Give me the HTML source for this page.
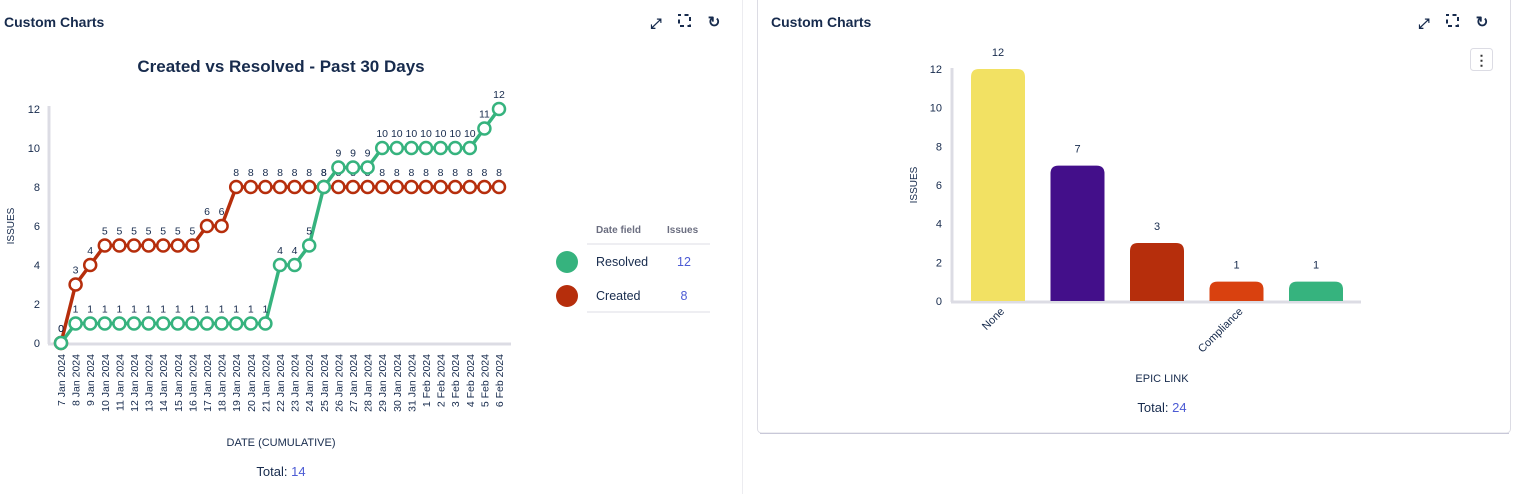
<!DOCTYPE html>
<html><head><meta charset="utf-8"><style>
body{margin:0;width:1525px;height:494px;background:#fff;font-family:"Liberation Sans",sans-serif;overflow:hidden;position:relative}
svg{position:absolute;left:0;top:0}
</style></head><body>
<svg id="s" width="1525" height="494">
<line x1="742.5" y1="0" x2="742.5" y2="494" stroke="#ececf0"/>
<rect x="757.5" y="-10" width="753" height="443" rx="4" fill="#fff" stroke="#dcdce4"/>
<line x1="760" y1="433.5" x2="1509" y2="433.5" stroke="#c8c8d8"/>
<text x="4" y="27" font-size="14" font-weight="bold" fill="#172b4d">Custom Charts</text>
<text x="771" y="27" font-size="14" font-weight="bold" fill="#172b4d">Custom Charts</text>
<g id="icons"></g>
<rect x="1470.5" y="48.5" width="22" height="22" rx="3" fill="#fff" stroke="#dcdce4"/>
<text x="1481.5" y="65" font-size="14" font-weight="bold" text-anchor="middle" fill="#333">⋮</text>
<text x="281" y="72" font-size="17" font-weight="bold" text-anchor="middle" fill="#172b4d">Created vs Resolved - Past 30 Days</text>
<g id="lc"></g>
<g id="bc"></g>
<g>
<text x="596" y="233" font-size="10" font-weight="bold" fill="#6b6e80">Date field</text>
<text x="667" y="233" font-size="10" font-weight="bold" fill="#6b6e80">Issues</text>
<line x1="587" y1="244" x2="710" y2="244" stroke="#dcdce4"/>
<g><circle cx="567" cy="262" r="11" fill="#36b37e"/><text x="596" y="266" font-size="12.5" fill="#172b4d">Resolved</text><text x="684" y="266" font-size="12.5" fill="#4c5bd4" text-anchor="middle">12</text></g>
<g><circle cx="567" cy="296" r="11" fill="#b62e0c"/><text x="596" y="300" font-size="12.5" fill="#172b4d">Created</text><text x="684" y="300" font-size="12.5" fill="#4c5bd4" text-anchor="middle">8</text></g>
<line x1="587" y1="312" x2="710" y2="312" stroke="#dcdce4"/>
</g>
<text x="281" y="446" font-size="11" text-anchor="middle" fill="#172b4d">DATE (CUMULATIVE)</text>
<text x="281" y="476" font-size="13" text-anchor="middle" fill="#172b4d">Total: <tspan fill="#4c5bd4">14</tspan></text>
<text x="1162" y="382" font-size="11" text-anchor="middle" fill="#172b4d">EPIC LINK</text>
<text x="1162" y="412" font-size="13" text-anchor="middle" fill="#172b4d">Total: <tspan fill="#4c5bd4">24</tspan></text>
</svg>
<script>
const NS="http://www.w3.org/2000/svg";
const dates=["7 Jan 2024","8 Jan 2024","9 Jan 2024","10 Jan 2024","11 Jan 2024","12 Jan 2024","13 Jan 2024","14 Jan 2024","15 Jan 2024","16 Jan 2024","17 Jan 2024","18 Jan 2024","19 Jan 2024","20 Jan 2024","21 Jan 2024","22 Jan 2024","23 Jan 2024","24 Jan 2024","25 Jan 2024","26 Jan 2024","27 Jan 2024","28 Jan 2024","29 Jan 2024","30 Jan 2024","31 Jan 2024","1 Feb 2024","2 Feb 2024","3 Feb 2024","4 Feb 2024","5 Feb 2024","6 Feb 2024"];
const resolved=[0,1,1,1,1,1,1,1,1,1,1,1,1,1,1,4,4,5,8,9,9,9,10,10,10,10,10,10,10,11,12];
const created=[0,3,4,5,5,5,5,5,5,5,6,6,8,8,8,8,8,8,8,8,8,8,8,8,8,8,8,8,8,8,8];
const yTicks=[0,2,4,6,8,10,12];
const barCats=["None","","","Compliance",""];
const barVals=[12,7,3,1,1];
const barColors=["#f2e163","#430f8a","#b62e0c","#d9410f","#36b37e"];

function el(tag,attrs,parent,txt){const e=document.createElementNS(NS,tag);for(const k in attrs)e.setAttribute(k,attrs[k]);if(txt!==undefined)e.textContent=txt;parent.appendChild(e);return e;}

const lc=document.getElementById('lc');
const lx=i=>61+i*(438/(dates.length-1));
const ly=v=>343-v*(234/12);
let g=el('g',{},lc);


el('line',{x1:49,y1:106,x2:49,y2:344,stroke:'#dcdce4','stroke-width':3},g);
el('line',{x1:48,y1:344,x2:511,y2:344,stroke:'#dcdce4','stroke-width':3},g);
yTicks.forEach(t=>{const tx=el('text',{x:40,y:ly(t)+4,'font-size':11,'text-anchor':'end',fill:'#172b4d'},g,String(t));

});
const yt=el('text',{x:14,y:226,'font-size':10,'text-anchor':'middle',fill:'#172b4d',transform:'rotate(-90 14 226)'},lc,'ISSUES');


dates.forEach((d,i)=>{const x=lx(i)+4;const t=el('text',{x:x,y:354,'font-size':10.5,'text-anchor':'end',fill:'#172b4d',transform:`rotate(-90 ${x} 354)`},lc,d);

});
function series(vals,color,name){
 const sg=el('g',{},lc);
 
 
 const p=el('polyline',{points:vals.map((v,i)=>lx(i)+','+ly(v)).join(' '),fill:'none',stroke:color,'stroke-width':3.5},sg);
 
 
 vals.forEach((v,i)=>{const c=el('circle',{cx:lx(i),cy:ly(v),r:6,fill:'#fff',stroke:color,'stroke-width':2.5},sg);
 
 
 const t=el('text',{x:lx(i),y:ly(v)-11,'font-size':10.5,'text-anchor':'middle',fill:'#172b4d'},sg,String(v));
 
 });
}
series(created,'#b62e0c','created');
series(resolved,'#36b37e','resolved');

const bc=document.getElementById('bc');
const by=v=>301-v*(232/12);
const bx=i=>998+i*79.5;
const ag=el('g',{},bc);


el('line',{x1:952,y1:68,x2:952,y2:302,stroke:'#dcdce4','stroke-width':3},ag);
el('line',{x1:951,y1:302,x2:1361,y2:302,stroke:'#dcdce4','stroke-width':3},ag);
yTicks.forEach(t=>{const tx=el('text',{x:942,y:by(t)+4,'font-size':11,'text-anchor':'end',fill:'#172b4d'},ag,String(t));

});
const byt=el('text',{x:917,y:185,'font-size':10,'text-anchor':'middle',fill:'#172b4d',transform:'rotate(-90 917 185)'},bc,'ISSUES');


barVals.forEach((v,i)=>{
 const y=by(v);
 const r=el('path',{d:`M${bx(i)-27},301 V${y+8} Q${bx(i)-27},${y} ${bx(i)-19},${y} H${bx(i)+19} Q${bx(i)+27},${y} ${bx(i)+27},${y+8} V301 Z`,fill:barColors[i]},bc);
 
 
 const t=el('text',{x:bx(i),y:y-13,'font-size':11,'text-anchor':'middle',fill:'#172b4d'},bc,String(v));
 
 
 if(barCats[i]){const x=bx(i)+7;const c=el('text',{x:x,y:312,'font-size':11,'text-anchor':'end',fill:'#172b4d',transform:`rotate(-45 ${x} 312)`},bc,barCats[i]);
 
 }
});

const ic=document.getElementById('icons');
[[648,'left'],[1416,'right']].forEach(([x0,side])=>{
 const a=el('text',{x:x0+8,y:28,'font-size':14,'font-weight':'bold','text-anchor':'middle',fill:'#172b4d'},ic,'⤢');
 
 
 const f=el('rect',{x:x0+31,y:15,width:11,height:11,fill:'none',stroke:'#172b4d','stroke-width':2,'stroke-dasharray':'4 3.5','stroke-dashoffset':2},ic);
 
 
 const r=el('text',{x:x0+66,y:27,'font-size':15,'font-weight':'bold','text-anchor':'middle',fill:'#172b4d'},ic,'↻');
 
 
});
</script>
</body></html>
